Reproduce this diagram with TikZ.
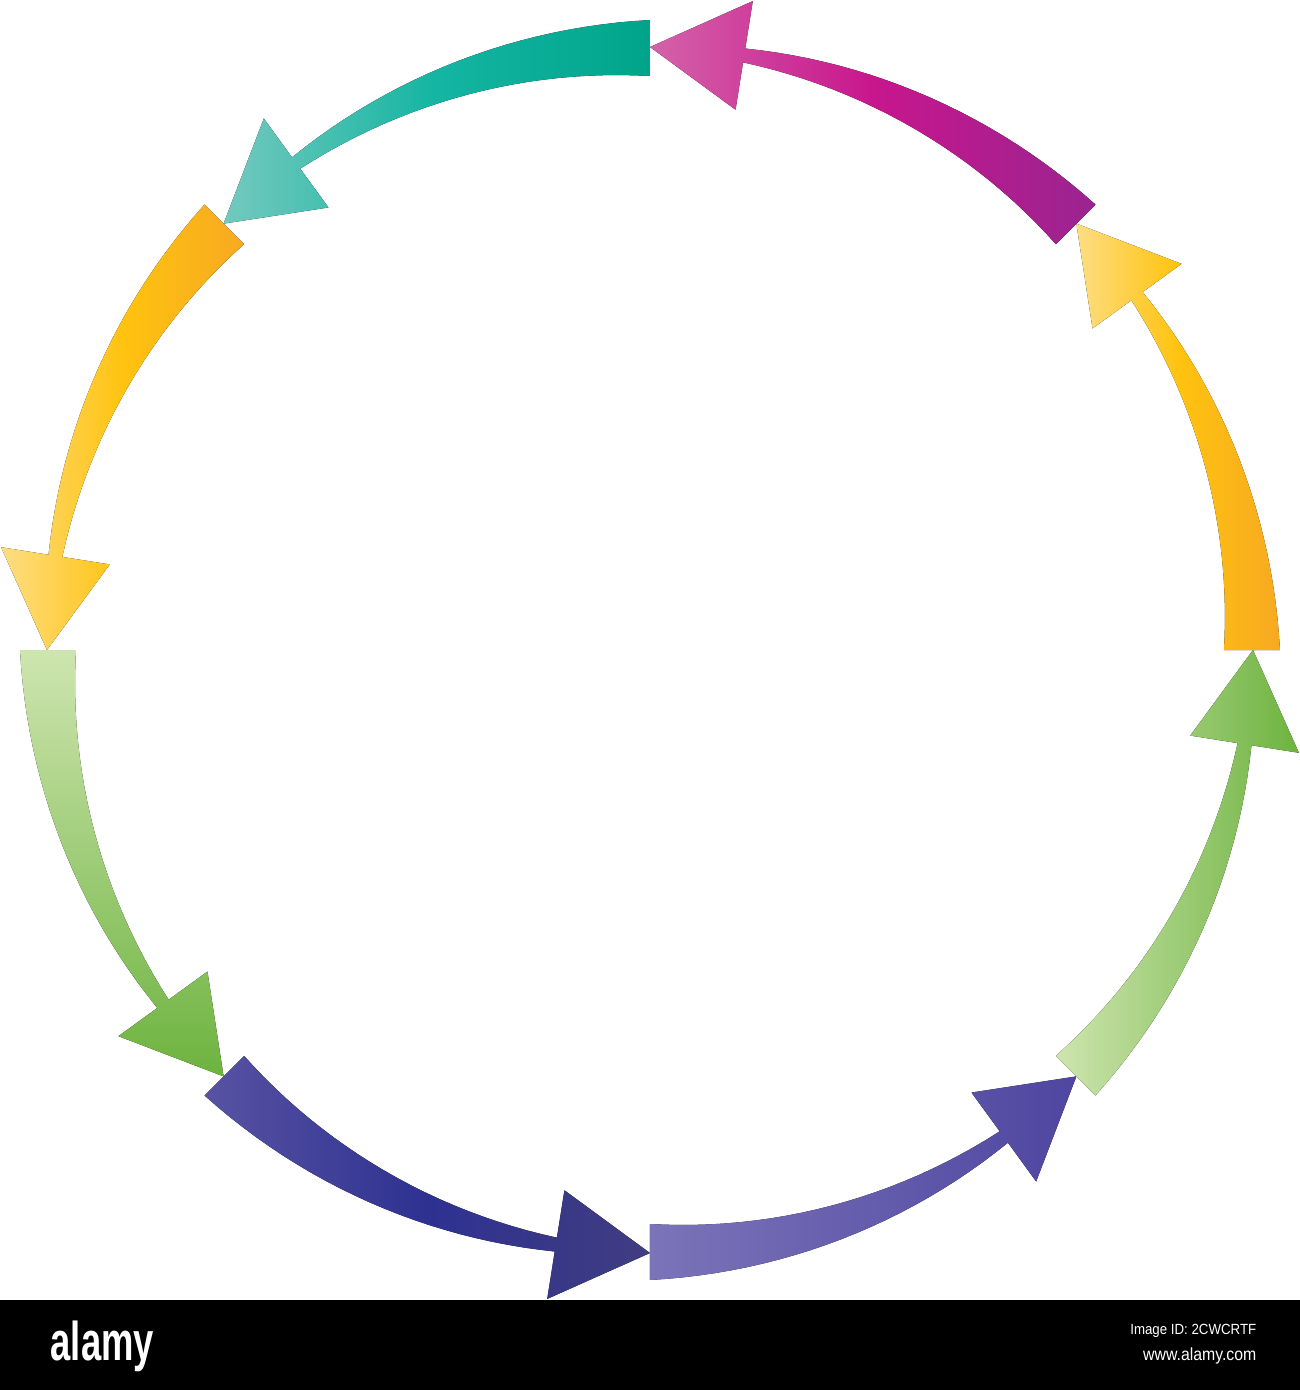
\documentclass[tikz,border=0pt]{standalone}
\usepackage{fontspec}
\setmainfont{Liberation Sans}
\definecolor{yelpale}{HTML}{FDDD82}
\definecolor{yelmid}{HTML}{FFC30F}
\definecolor{yelorange}{HTML}{F7A922}
\definecolor{magpale}{HTML}{D462A9}
\definecolor{magmid}{HTML}{C8168D}
\definecolor{magdark}{HTML}{9A2490}
\definecolor{tealpale}{HTML}{74C9BE}
\definecolor{tealmid}{HTML}{14B5A2}
\definecolor{tealdark}{HTML}{00A48A}
\definecolor{grnpale}{HTML}{CEE5AF}
\definecolor{grndark}{HTML}{6DB33F}
\definecolor{bluepale}{HTML}{5853A3}
\definecolor{bluemid}{HTML}{2E3191}
\definecolor{bluedark}{HTML}{403D80}
\definecolor{purpale}{HTML}{7C74B9}
\definecolor{purdark}{HTML}{4E46A0}
\tikzset{
  watermark/.style={text=white, inner sep=0pt}
}

\begin{document}
\begin{tikzpicture}
\useasboundingbox (-6.5,-7.4) rectangle (6.5,6.5);
% right, yellow
\fill[left color=yelpale, right color=yelorange, middle color=yelmid] (0:6.3) -- plot[domain=0:36] (\x:{6.3-0.21*\x/36}) -- (36:6.57) -- (45:6.03) -- (36:5.47) -- plot[domain=36:0] (\x:{5.74+0.21*\x/36}) -- cycle;
% upper right, magenta
\fill[left color=magpale, right color=magdark, middle color=magmid] (45:6.3) -- plot[domain=45:81] (\x:{6.3-0.21*(\x-45)/36}) -- (81:6.57) -- (90:6.03) -- (81:5.47) -- plot[domain=81:45] (\x:{5.74+0.21*(\x-45)/36}) -- cycle;
% top, teal
\fill[left color=tealpale, right color=tealdark, middle color=tealmid] (90:6.3) -- plot[domain=90:126] (\x:{6.3-0.21*(\x-90)/36}) -- (126:6.57) -- (135:6.03) -- (126:5.47) -- plot[domain=126:90] (\x:{5.74+0.21*(\x-90)/36}) -- cycle;
% upper left, yellow
\fill[left color=yelpale, right color=yelorange, middle color=yelmid] (135:6.3) -- plot[domain=135:171] (\x:{6.3-0.21*(\x-135)/36}) -- (171:6.57) -- (180:6.03) -- (171:5.47) -- plot[domain=171:135] (\x:{5.74+0.21*(\x-135)/36}) -- cycle;
% left, light green
\fill[top color=grnpale, bottom color=grndark] (180:6.3) -- plot[domain=180:216] (\x:{6.3-0.21*(\x-180)/36}) -- (216:6.57) -- (225:6.03) -- (216:5.47) -- plot[domain=216:180] (\x:{5.74+0.21*(\x-180)/36}) -- cycle;
% lower left, dark blue
\fill[left color=bluepale, right color=bluedark, middle color=bluemid] (225:6.3) -- plot[domain=225:261] (\x:{6.3-0.21*(\x-225)/36}) -- (261:6.57) -- (270:6.03) -- (261:5.47) -- plot[domain=261:225] (\x:{5.74+0.21*(\x-225)/36}) -- cycle;
% bottom, purple
\fill[left color=purpale, right color=purdark] (270:6.3) -- plot[domain=270:306] (\x:{6.3-0.21*(\x-270)/36}) -- (306:6.57) -- (315:6.03) -- (306:5.47) -- plot[domain=306:270] (\x:{5.74+0.21*(\x-270)/36}) -- cycle;
% lower right, green
\fill[left color=grnpale, right color=grndark] (315:6.3) -- plot[domain=315:351] (\x:{6.3-0.21*(\x-315)/36}) -- (351:6.57) -- (360:6.03) -- (351:5.47) -- plot[domain=351:315] (\x:{5.74+0.21*(\x-315)/36}) -- cycle;
% bottom bar
\fill[black] (-6.5,-7.4) rectangle (6.5,-6.5);
\node[watermark, anchor=base west] (logo) at (-6.0,-7.1) {\scalebox{0.7}[1.05]{\fontsize{14.8}{16}\selectfont\bfseries alamy}};
\node[watermark, anchor=base east] (imageid) at (6.07,-6.84) {\scalebox{0.9}[1]{\fontsize{4.2}{5}\selectfont Image ID: 2CWCRTF}};
\node[watermark, anchor=base east] (site) at (6.07,-7.1) {\scalebox{0.9}[1]{\fontsize{5}{6}\selectfont www.alamy.com}};
\end{tikzpicture}
\end{document}
